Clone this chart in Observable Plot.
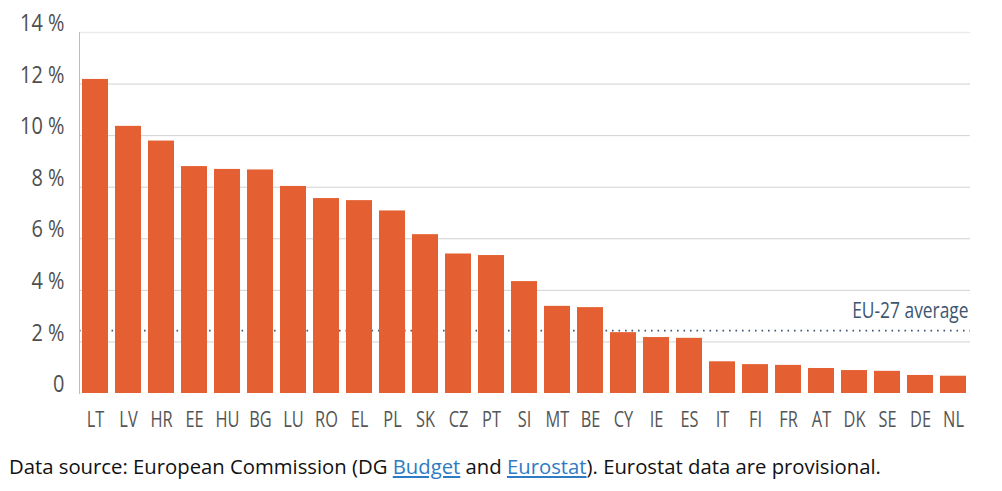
<!DOCTYPE html>
<html>
<head>
<meta charset="utf-8">
<script src="https://cdn.jsdelivr.net/npm/d3@7"></script>
<script src="https://cdn.jsdelivr.net/npm/@observablehq/plot@0.6"></script>
<style>
  html, body { margin: 0; padding: 0; background: #fff; }
  #chart { width: 1002px; }
  #caption {
    font-family: "Open Sans", "Noto Sans", sans-serif;
    font-size: 20.3px;
    color: #111;
    margin: 12px 0 0 9px;
    white-space: nowrap;
  }
  #caption a { color: #2e7bc4; text-decoration: underline; }
</style>
</head>
<body>
<div id="chart"></div>
<div id="caption">Data source: European Commission (DG <a>Budget</a> and <a>Eurostat</a>). Eurostat data are provisional.</div>
<script>
const countries = ["LT","LV","HR","EE","HU","BG","LU","RO","EL","PL","SK","CZ","PT","SI","MT","BE","CY","IE","ES","IT","FI","FR","AT","DK","SE","DE","NL"];
const values = [12.18,10.36,9.79,8.80,8.69,8.67,8.03,7.56,7.48,7.08,6.16,5.41,5.35,4.34,3.38,3.33,2.36,2.17,2.14,1.23,1.12,1.09,0.97,0.89,0.86,0.70,0.67];
const yTicks = [0,2,4,6,8,10,12,14];
const euAverage = 2.44;
const euLabel = "EU-27 average";

const data = countries.map((c, i) => ({country: c, value: values[i]}));
const font = "'Open Sans', 'Noto Sans', sans-serif";

const chart = Plot.plot({
  width: 1002,
  height: 440,
  marginTop: 32,
  marginBottom: 47,
  marginLeft: 79,
  marginRight: 32,
  style: {fontFamily: font, background: "#fff"},
  x: {domain: countries, paddingInner: 0.2, paddingOuter: 0.1, label: null},
  y: {domain: [0, 14], label: null},
  marks: [
    Plot.gridY(yTicks.filter(d => d > 0 && d < 14), {stroke: "#d2d2d2", strokeOpacity: 1, strokeWidth: 1}),
    Plot.gridY([14], {stroke: "#ececec", strokeOpacity: 1, strokeWidth: 1.5}),
    Plot.ruleY([euAverage], {stroke: "#3d5672", strokeWidth: 1.6, strokeDasharray: "1.6,4.9"}),
    Plot.barY(data, {x: "country", y: "value", fill: "#e45f31"}),
    Plot.frame({anchor: "left", stroke: "#bdbdbd"}),
    Plot.axisY(yTicks, {
      tickSize: 0, tickPadding: 15, fontSize: 24, fill: "#4f4f4f",
      dy: -9,
      tickFormat: d => d === 0 ? "0" : d + " %",
      label: null
    }),
    Plot.axisX({
      tickSize: 0, tickPadding: 19, fontSize: 21, fill: "#555", label: null
    }),
    Plot.text([euLabel], {
      frameAnchor: "right", y: euAverage, dy: -20, dx: -2,
      textAnchor: "end", fontSize: 22, fill: "#3d5672"
    })
  ]
});
document.getElementById("chart").appendChild(chart);

// condensed look: squeeze glyphs horizontally around each label's anchor
function squeeze(sel, k) {
  d3.select(chart).selectAll(sel).each(function () {
    const t = this.getAttribute("transform") || "";
    this.setAttribute("transform", t + ` scale(${k},1)`);
  });
}
squeeze('g[aria-label="y-axis tick label"] text', 0.83);
squeeze('g[aria-label="x-axis tick label"] text', 0.78);
squeeze('g[aria-label="text"] text', 0.79);
</script>
</body>
</html>
